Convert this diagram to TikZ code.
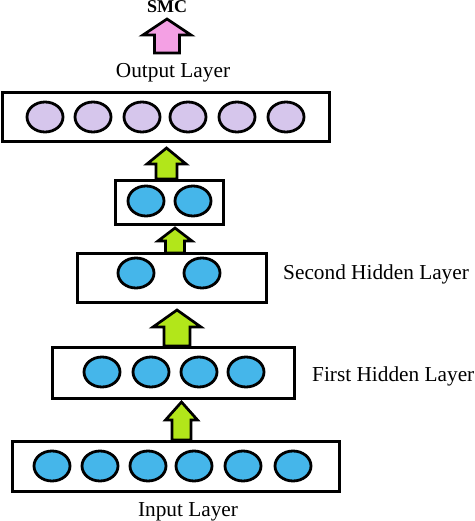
\documentclass[tikz,border=0pt]{standalone}
\usepackage{fontspec}
\setmainfont{Liberation Serif}
\usetikzlibrary{calc,shapes.geometric}
\definecolor{neuronblue}{HTML}{45B6EA}
\definecolor{neuronlav}{HTML}{D6C6EC}
\definecolor{arrowgreen}{HTML}{B2E61A}
\definecolor{arrowpink}{HTML}{F4A0E4}
\tikzset{
  layerbox/.style={draw=black, line width=3.2pt, fill=white, inner sep=0pt},
  neuron/.style={ellipse, draw=black, line width=2.8pt, fill=neuronblue, minimum width=36pt, minimum height=30pt, inner sep=0pt},
  outneuron/.style={neuron, fill=neuronlav},
  blockarrow/.style={draw=black, line width=2.7pt, fill=arrowgreen, line join=miter},
  pinkarrow/.style={blockarrow, fill=arrowpink},
  lbl/.style={font=\fontsize{21.3}{24}\selectfont, inner sep=0pt},
}
% up-arrow: style, x center, tip y, head base y, bottom y, half head width, half shaft width
\newcommand{\uparrowshape}[7]{%
  \draw[#1] (#2-#7,#5) -- (#2-#7,#4) -- (#2-#6,#4) -- (#2,#3) -- (#2+#6,#4) -- (#2+#7,#4) -- (#2+#7,#5) -- cycle;}
\begin{document}
\begin{tikzpicture}[x=1pt,y=-1pt]
\useasboundingbox (0,0) rectangle (474,521);

% Output layer
\node[layerbox, minimum width=327pt, minimum height=49pt] (outbox) at (166,117) {};
\foreach \x [count=\i] in {45,93,142,188,237,286}
  \node[outneuron] (o\i) at (\x,117) {};
\node[lbl] (outlbl) at (173,73) {Output Layer};
\node[lbl, font=\bfseries\fontsize{18}{20}\selectfont] (smc) at (167,7) {SMC};

% Box 4 (two neurons)
\node[layerbox, minimum width=108pt, minimum height=44pt] (h3box) at (169.5,202.5) {};
\node[neuron] (c1) at (146,201) {};
\node[neuron] (c2) at (193,201) {};

% Second hidden layer
\node[layerbox, minimum width=189pt, minimum height=49pt] (h2box) at (172,278) {};
\node[neuron] (b1) at (136,273) {};
\node[neuron] (b2) at (202,273) {};
\node[lbl, anchor=west] (h2lbl) at (283,274) {Second Hidden Layer};

% First hidden layer
\node[layerbox, minimum width=242pt, minimum height=51pt] (h1box) at (173.5,373) {};
\foreach \x [count=\i] in {102,151,199,246}
  \node[neuron] (a\i) at (\x,372) {};
\node[lbl, anchor=west] (h1lbl) at (312,376) {First Hidden Layer};

% Input layer
\node[layerbox, minimum width=327pt, minimum height=50pt] (inbox) at (176,466.5) {};
\foreach \x [count=\i] in {52,100,148,194,243,293}
  \node[neuron] (n\i) at (\x,466) {};
\node[lbl] (inlbl) at (188,512) {Input Layer};

% Arrows
\uparrowshape{pinkarrow}{167}{19}{35}{53}{24}{12.5}
\uparrowshape{blockarrow}{166.5}{148}{164}{179}{19.5}{10.5}
\uparrowshape{blockarrow}{175}{228}{241}{253}{17}{9.5}
\uparrowshape{blockarrow}{177}{310}{327}{346}{24}{13}
\uparrowshape{blockarrow}{181.5}{402}{420}{440}{16}{9.5}
\end{tikzpicture}
\end{document}
